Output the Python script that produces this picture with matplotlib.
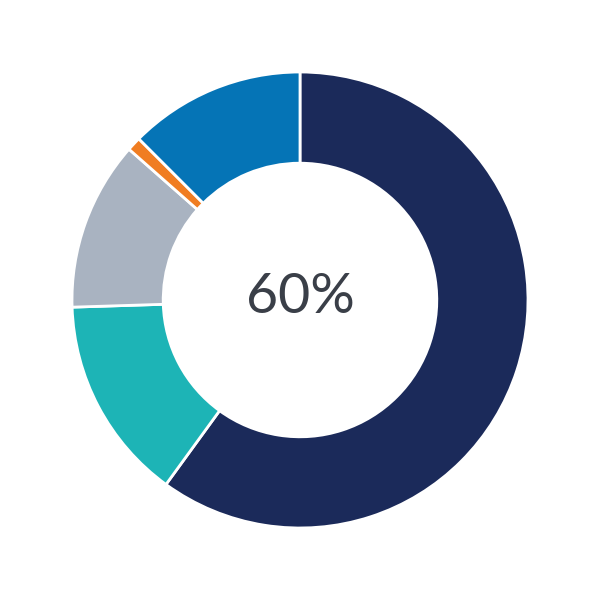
import matplotlib
matplotlib.use("Agg")
import matplotlib.pyplot as plt

labels = ["A", "B", "C", "D", "E"]
values = [60, 14.5, 12, 1, 12.5]
colors = ["#1B2A5A", "#1DB4B6", "#A9B3C1", "#F07D22", "#0574B6"]
center_text = "60%"

fig = plt.figure(figsize=(6, 6), dpi=100)
ax = fig.add_axes([0, 0, 1, 1])
ax.pie(values, colors=colors, startangle=90, counterclock=False,
       radius=1.0,
       wedgeprops=dict(width=0.4, edgecolor="white", linewidth=2))
ax.text(0, 0.01, center_text, ha="center", va="center", fontsize=40,
        color="#3A3F48", family=["Lato", "DejaVu Sans"], fontweight="normal")
lim = 300 / 228
ax.set_xlim(-lim, lim)
ax.set_ylim(-lim, lim)
ax.set_aspect("equal")
ax.axis("off")
fig.savefig("out.png", dpi=100, facecolor="white")
